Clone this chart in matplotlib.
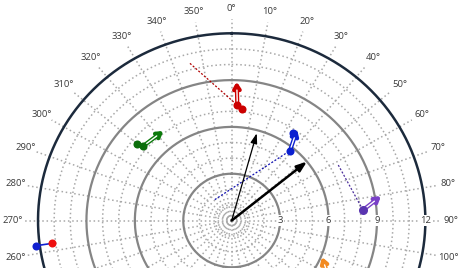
import numpy as np
import matplotlib
matplotlib.use('Agg')
import matplotlib.pyplot as plt

# ---------------- data ----------------
ANGLE_TICKS = list(range(0, 360, 10))
LABEL_ANGLES = [260, 270, 280, 290, 300, 310, 320, 330, 340, 350,
                0, 10, 20, 30, 40, 50, 60, 70, 80, 90, 100]
ANGLE_LABELS = [f"{a}°" for a in LABEL_ANGLES]
RADIAL_TICKS = [3, 6, 9, 12]
RADIAL_LABELS = ["3", "6", "9", "12"]
MINOR_RINGS = [1, 2, 4, 5, 7, 8, 10, 11]

# black vectors: (angle deg, radius)
vec_thin = (15.5, 5.8)
vec_thick = (51.0, 6.0)

# coloured tracks (angle deg, radius)
red_dash = [(345.6, 10.4), (2.7, 7.4)]
red_dots = [(2.7, 7.4), (5.3, 7.16)]
red_arrow = [(2.7, 7.4), (2.0, 8.9)]

blue_dash = [(322.0, 1.7), (38.9, 5.75)]
blue_dots = [(38.9, 5.75), (34.3, 6.77)]
blue_arrow = [(38.9, 5.75), (34.8, 7.1)]

green_dots = [(310.0, 7.63), (311.1, 7.27)]
green_arrow = [(311.1, 7.27), (323.6, 7.13)]

purple_dash = [(61.7, 7.5), (85.3, 8.16)]
purple_dots = [(85.3, 8.16)]
purple_arrow = [(85.3, 8.16), (80.4, 9.38)]

orange_arrow = [(121.0, 7.0), (112.7, 6.06)]

left_pair_line = [(262.4, 12.25), (262.5, 11.21)]
left_blue_dot = (262.4, 12.25)
left_red_dot = (262.5, 11.21)

# ---------------- figure ----------------
W, H = 467, 268
fig = plt.figure(figsize=(W / 100, H / 100), dpi=100)
R = 12.9
ux, uy = 16.14, 15.6          # px per radial unit (x, y)
cx, cy = 231.7, 268 - 220.5   # centre in px from bottom-left
wpx, hpx = 2 * R * ux, 2 * R * uy
ax = fig.add_axes([(cx - wpx / 2) / W, (cy - hpx / 2) / H, wpx / W, hpx / H],
                  projection='polar')
ax.set_aspect('auto')
ax.set_theta_zero_location('N')
ax.set_theta_direction(-1)
ax.set_ylim(0, R)
ax.set_xticks([])
ax.set_yticks([])
ax.grid(False)
ax.spines['polar'].set_visible(False)

d2r = np.deg2rad
full = np.linspace(0, 2 * np.pi, 721)
dot_style = dict(color='#a8a8a8', lw=1.1, linestyle=(0, (1, 1.8)))

# spokes
for a in ANGLE_TICKS:
    ax.plot([d2r(a), d2r(a)], [0, R], zorder=1, **dot_style)
# minor dotted rings
for r in MINOR_RINGS:
    ax.plot(full, np.full_like(full, r), zorder=1, **dot_style)
# major rings
for r in RADIAL_TICKS[:-1]:
    ax.plot(full, np.full_like(full, r), color='#858585', lw=1.6, zorder=2)
ax.plot(full, np.full_like(full, RADIAL_TICKS[-1]), color='#1c2a3c', lw=1.8, zorder=2)

txt_kw = dict(fontsize=6.8, color='#3a3a3a', family=['Open Sans', 'DejaVu Sans'])
# angle labels
for a, lab in zip(LABEL_ANGLES, ANGLE_LABELS):
    ax.text(d2r(a), 13.6, lab, ha='center', va='center', clip_on=False, **txt_kw)
# radial labels
for r, lab in zip(RADIAL_TICKS, RADIAL_LABELS):
    ax.text(d2r(90), r, lab, ha='center', va='center', zorder=3,
            bbox=dict(fc='white', ec='none', pad=0.6), **txt_kw)


def P(pt):
    return (d2r(pt[0]), pt[1])


def dashed(seg, c):
    ax.plot([d2r(seg[0][0]), d2r(seg[1][0])], [seg[0][1], seg[1][1]],
            color=c, lw=0.9, linestyle=(0, (1.6, 1.4)), zorder=4)


def hollow_arrow(seg, c):
    # coloured arrow with filled head
    ax.annotate('', xy=P(seg[1]), xytext=P(seg[0]),
                arrowprops=dict(arrowstyle='-|>,head_length=0.32,head_width=0.2',
                                color=c, lw=3.0, shrinkA=0, shrinkB=0),
                zorder=5)
    # white core of the shaft
    ax.annotate('', xy=P(seg[1]), xytext=P(seg[0]),
                arrowprops=dict(arrowstyle='-', color='white', lw=1.0,
                                shrinkA=1, shrinkB=6),
                zorder=5.1)


def dots(pts, c, ms=5.8):
    ax.plot([d2r(p[0]) for p in pts], [p[1] for p in pts], 'o', color=c,
            ms=ms, mew=0, zorder=6)


# black vectors
ax.annotate('', xy=P(vec_thin), xytext=(0, 0),
            arrowprops=dict(arrowstyle='-|>,head_length=0.6,head_width=0.2',
                            color='black', lw=0.9, shrinkA=0, shrinkB=0), zorder=5)
ax.annotate('', xy=P(vec_thick), xytext=(0, 0),
            arrowprops=dict(arrowstyle='-|>,head_length=0.6,head_width=0.22',
                            color='black', lw=1.8, shrinkA=0, shrinkB=0), zorder=5)

# red
dashed(red_dash, '#b00000')
hollow_arrow(red_arrow, '#cc0000')
dots(red_dots, '#cc0000')
# blue
dashed(blue_dash, '#1010b0')
hollow_arrow(blue_arrow, '#0a1fd0')
dots(blue_dots, '#0a1fd0')
# green
hollow_arrow(green_arrow, '#0b7a0b')
dots(green_dots, '#0b6e0b')
# purple
dashed(purple_dash, '#4b2e9a')
hollow_arrow(purple_arrow, '#7a40c8')
dots(purple_dots, '#5a35b0', ms=6.5)
# orange
hollow_arrow(orange_arrow, '#f28a20')
# left pair
ax.plot([d2r(p[0]) for p in left_pair_line], [p[1] for p in left_pair_line],
        color='#1020d0', lw=1.2, zorder=5)
dots([left_blue_dot], '#1020d0')
dots([left_red_dot], '#ee1010')

fig.savefig('out.png', dpi=100)
